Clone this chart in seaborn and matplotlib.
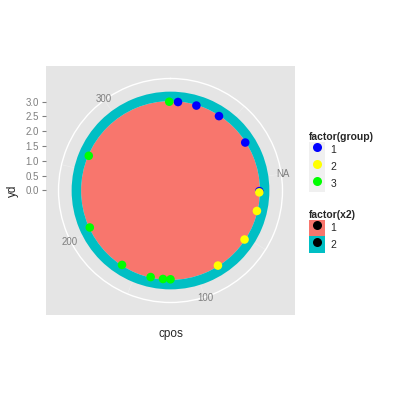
import numpy as np
import pandas as pd
import matplotlib
matplotlib.use("Agg")
import matplotlib.pyplot as plt
from matplotlib.patches import Patch
from matplotlib.lines import Line2D
import seaborn as sns

# Data
group_levels = ["1", "2", "3"]
group_colors = ["#0000FF", "#FFFF00", "#00FF00"]
cpos_blue = [-95, -80, -60, -30, 11]
cpos_yellow = [12, 27, 52, 82]
cpos_green = [122, 128, 138, 163, 203, 262, 344]
yd_points = 3.0

x2_levels = ["1", "2"]
x2_colors = ["#F8766D", "#00BFC4"]
x2_top = [3.02, 3.34]

cpos_range = (-101, 345)
theta_major = [0, 100, 200, 300]
theta_labels = ["NA", "100", "200", "300"]
theta_minor = [-50, 50, 150, 250]
yd_ticks = [0.0, 0.5, 1.0, 1.5, 2.0, 2.5, 3.0]

sns.set_style("white")
plt.rcParams["font.family"] = ["Liberation Sans", "DejaVu Sans"]


def to_theta(v):
    v = np.asarray(v, dtype=float)
    return (v - cpos_range[0]) / (cpos_range[1] - cpos_range[0]) * 2 * np.pi


points = pd.DataFrame({
    "cpos": cpos_blue + cpos_yellow + cpos_green,
    "group": ["1"] * len(cpos_blue) + ["2"] * len(cpos_yellow) + ["3"] * len(cpos_green),
})
points["yd"] = yd_points
points["theta"] = to_theta(points["cpos"])

fig = plt.figure(figsize=(4, 4), dpi=100)
W = H = 400.0
px_per_unit = 29.6
cx, cy = 170.5, 190.5
half = 124.5

# grey panel with the r axis on the left
bg = fig.add_axes([(cx - half) / W, (H - cy - half) / H, 2 * half / W, 2 * half / H])
bg.set_facecolor("#E5E5E5")
for s in bg.spines.values():
    s.set_visible(False)
bg.set_xlim(-half / px_per_unit, half / px_per_unit)
bg.set_ylim(-half / px_per_unit, half / px_per_unit)
bg.set_xticks([])
bg.set_yticks(yd_ticks)
bg.set_yticklabels([f"{t:.1f}" for t in yd_ticks])
bg.tick_params(axis="y", left=True, length=3, width=0.8, color="#7F7F7F",
               labelcolor="#7F7F7F", labelsize=7, pad=2)
bg.set_xlabel("cpos", fontsize=8.5, labelpad=9)
bg.set_ylabel("yd", fontsize=8.5, labelpad=5)

# polar panel
R_out = 112.0
rmax = R_out / px_per_unit
ax = fig.add_axes([(cx - R_out) / W, (H - cy - R_out) / H, 2 * R_out / W, 2 * R_out / H],
                  projection="polar")
ax.patch.set_alpha(0)
ax.set_theta_zero_location("N")
ax.set_theta_direction(-1)
ax.set_ylim(0, rmax)
ax.set_rgrids(yd_ticks, labels=[""] * len(yd_ticks))
ax.set_thetagrids(np.degrees(to_theta(theta_major + theta_minor)),
                  labels=[""] * (len(theta_major) + len(theta_minor)))
ax.grid(True, color="#EDEDED", linewidth=0.5)
ax.spines["polar"].set_color("white")
ax.spines["polar"].set_linewidth(1.0)
ax.set_axisbelow(True)

bottom = 0.0
for lvl, col, top in zip(x2_levels, x2_colors, x2_top):
    ax.bar(np.pi, top - bottom, width=2 * np.pi, bottom=bottom, color=col,
           edgecolor="none", zorder=2)
    bottom = top

sns.scatterplot(data=points, x="theta", y="yd", hue="group", hue_order=group_levels,
                palette=group_colors, s=38, linewidth=0, legend=False, ax=ax, zorder=3)
ax.set_xlabel("")
ax.set_ylabel("")
ax.set_ylim(0, rmax)

label_r = 113.3 / px_per_unit
for v, lab in zip(theta_major, theta_labels):
    ax.text(to_theta(v), label_r, lab, ha="center", va="center",
            fontsize=7, color="#7F7F7F", zorder=4)

# legends
key_bg = "#F0F0F0"
h1 = [(Patch(facecolor=key_bg, edgecolor="none"),
       Line2D([], [], marker="o", linestyle="none", markersize=6.5,
              markerfacecolor=c, markeredgewidth=0))
      for c in group_colors]
h2 = [(Patch(facecolor=c, edgecolor="none"),
       Line2D([], [], marker="o", linestyle="none", markersize=6.5,
              markerfacecolor="black", markeredgewidth=0))
      for c in x2_colors]
common = dict(frameon=False, fontsize=7.5, handlelength=1.55, handleheight=2.09,
              labelspacing=0.0, handletextpad=0.5, borderpad=0, borderaxespad=0,
              alignment="left", title_fontproperties={"weight": "bold", "size": 7.5})
leg1 = fig.legend(h1, group_levels, title="factor(group)", loc="upper left",
                  bbox_to_anchor=(309 / W, 1 - 131.5 / H), **common)
leg2 = fig.legend(h2, x2_levels, title="factor(x2)", loc="upper left",
                  bbox_to_anchor=(309 / W, 1 - 209.5 / H), **common)

fig.savefig("out.png", dpi=100)
